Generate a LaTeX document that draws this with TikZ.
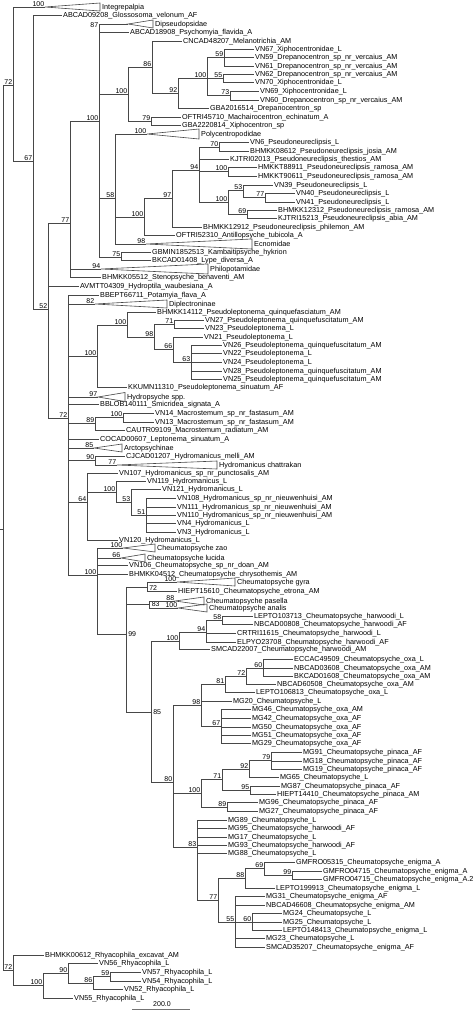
\documentclass[tikz,border=0pt]{standalone}
\usepackage{fontspec}
\setmainfont{Liberation Sans}
\begin{document}
\begin{tikzpicture}[
    x=1pt, y=-1pt,
    branch/.style={draw=black!72, line width=0.6pt},
    clade/.style={draw=black!72, line width=0.6pt},
    leaf/.style={anchor=west, inner xsep=1.5pt, inner ysep=0.5pt, xshift=-1.5pt, text height=5.2pt, text depth=0pt, font=\fontsize{7.25}{8}\selectfont},
    boot/.style={anchor=south east, inner sep=0.6pt, font=\fontsize{7}{8}\selectfont}
  ]
  \useasboundingbox (0,0) rectangle (474,1010);
  \coordinate (base) at (0,529);
  \coordinate (root) at (3,529);
  \draw[branch] (base) -- (root);
  \foreach \n/\x/\y/\b in {n72a/13/85/72, n67/33/161/67, n52/48/309/52, n77a/70/223/77, n100a/99/121/100,
      n87/99/28/87, n100b/128/94/100, n86/152/67/86, n92/178/93/92, n100c/207/78/100, n59/224/57/59,
      n55/223/78/55, n73/230/95/73, n79/151/121/79, n58/115/198/58, n100d/144/217/100, n97/172/198/97,
      n94/199/170/94, n70/219/147/70, n100e/228/171/100, n100f/228/202/100, n53/243/190/53, n77b/265/197/77,
      n69/247/214/69, n75/121/257/75, n72b/68/418/72, n100g/97/356/100, n100h/127/325/100, n98a/154/337/98,
      n71a/174/324/71, n66/173/349/66, n63/191/362/63, n89a/95/423/89, n100i/123/417/100, n90a/95/460/90,
      n64/87/502/64, n100j/116/492/100, n53b/131/502/53, n51/146/515/51, n100k/97/575/100, n99a/126/634/{},
      n72c/147/587/{}, n83a/149/604/{}, n85/151/712/{}, n100l/179/641/100, n94b/206/632/94, n58b/222/620/58,
      n80/173/782/80, n98b/201/705/98, n81/225/684/81, n72d/246/676/72, n60a/263/668/60, n67b/221/726/67,
      n100m/201/793/100, n71b/222/779/71, n92b/249/769/92, n79b/271/760/79, n95/250/790/95, n89b/227/807/89,
      n83b/197/847/83, n77c/218/900/77, n88/245/878/88, n69b/264/868/69, n99b/292/875/99, n55b/235/922/55,
      n60b/252/922/60, n72e/13/970/72, n100n/43/985/100, n90b/68/973/90, n86b/93/983/86, n59b/110/976/59}
    {
      \coordinate (\n) at (\x,\y);
      \node[boot] (\n-b) at (\n) {\b};
    }
  \node[boot, anchor=west, xshift=1.5pt, yshift=-1pt] (n72c-r) at (n72c) {72};
  \node[boot, anchor=west, xshift=2pt] (n83a-r) at (n83a) {83};
  \node[boot, anchor=west, xshift=1.5pt] (n99a-r) at (n99a) {99};
  \node[boot, anchor=west, xshift=1.5pt] (n85-r) at (n85) {85};
  \foreach \n/\ax/\bx/\y/\h/\b/\t in {tIn/45/100/7/4/100/Integrepalpia, tDi/128/153/24/4/{}/Dipseudopsidae,
      tPo/147/199/134/5/100/Polycentropodidae, tEc/146/252/244/5/98/Ecnomidae, tPh/101/208/269/5/94/Philopotamidae,
      tDl/95/167/304/4/82/Diplectroninae, tHy/98/125/397/4.5/97/Hydropsyche spp., tAr/94/122/448/4/85/Arctopsychinae,
      tCh/117/217/465/4/77/Hydromanicus chattrakan, tZa/123/155/548/4/100/Cheumatopsyche zao,
      tLu/121/145/558/4/66/Cheumatopsyche lucida, tGy/177/235/582/4/100/Cheumatopsyche gyra,
      tPa/175/204/601/4/88/Cheumatopsyche pasella, tAn/178/207/608/4/100/Cheumatopsyche analis}
    {
      \coordinate (\n) at (\ax,\y);
      \draw[clade] (\n) -- (\bx,\y-\h) -- (\bx,\y+\h) -- cycle;
      \node[leaf] (\n-l) at (\bx+2,\y) {\t};
      \node[boot] (\n-b) at (\n) {\b};
    }
  \foreach \n/\x/\y/\t in {
      ABCAD09208/63/15/ABCAD09208\_Glossosoma\_velonum\_AF,
      ABCAD18908/130/32/ABCAD18908\_Psychomyia\_flavida\_A,
      CNCAD48207/183/41/CNCAD48207\_Melanotrichia\_AM,
      VN67/255/49/VN67\_Xiphocentronidae\_L,
      VN59/255/57/VN59\_Drepanocentron\_sp\_nr\_vercaius\_AM,
      VN61/255/66/VN61\_Drepanocentron\_sp\_nr\_vercaius\_AM,
      VN62/255/74/VN62\_Drepanocentron\_sp\_nr\_vercaius\_AM,
      VN70/255/82/VN70\_Xiphocentronidae\_L,
      VN69/260/91/VN69\_Xiphocentronidae\_L,
      VN60/260/100/VN60\_Drepanocentron\_sp\_nr\_vercaius\_AM,
      GBA2016514/210/108/GBA2016514\_Drepanocentron\_sp,
      OFTRI45710/182/117/OFTRI45710\_Machairocentron\_echinatum\_A,
      GBA2220814/182/125/GBA2220814\_Xiphocentron\_sp,
      VN6/250/142/VN6\_Pseudoneureclipsis\_L,
      BHMKK08612/250/151/BHMKK08612\_Pseudoneureclipsis\_josia\_AM,
      KJTRI02013/230/159/KJTRI02013\_Pseudoneureclipsis\_thestios\_AM,
      HMKKT88911/258/167/HMKKT88911\_Pseudoneureclipsis\_ramosa\_AM,
      HMKKT90611/258/176/HMKKT90611\_Pseudoneureclipsis\_ramosa\_AM,
      VN39/274/185/VN39\_Pseudoneureclipsis\_L,
      VN40/296/193/VN40\_Pseudoneureclipsis\_L,
      VN41/296/202/VN41\_Pseudoneureclipsis\_L,
      BHMKK12312/278/210/BHMKK12312\_Pseudoneureclipsis\_ramosa\_AM,
      KJTRI15213/278/218/KJTRI15213\_Pseudoneureclipsis\_abia\_AM,
      BHMKK12912/203/227/BHMKK12912\_Pseudoneureclipsis\_philemon\_AM,
      OFTRI52310/176/235/OFTRI52310\_Antillopsyche\_tubicola\_A,
      GBMIN1852513/152/252/GBMIN1852513\_Kambaitipsyche\_hykrion,
      BKCAD01408/152/260/BKCAD01408\_Lype\_diversa\_A,
      BHMKK05512/102/277/BHMKK05512\_Stenopsyche\_benaventi\_AM,
      AVMTT04309/80/286/AVMTT04309\_Hydroptila\_waubesiana\_A,
      BBEPT66711/100/295/BBEPT66711\_Potamyia\_flava\_A,
      BHMKK14112/157/312/BHMKK14112\_Pseudoleptonema\_quinquefasciatum\_AM,
      VN27/205/320/VN27\_Pseudoleptonema\_quinquefuscitatum\_AM,
      VN23/205/328/VN23\_Pseudoleptonema\_L,
      VN21/204/337/VN21\_Pseudoleptonema\_L,
      VN26/223/345/VN26\_Pseudoleptonema\_quinquefuscitatum\_AM,
      VN22/223/353/VN22\_Pseudoleptonema\_L,
      VN24/223/362/VN24\_Pseudoleptonema\_L,
      VN28/223/371/VN28\_Pseudoleptonema\_quinquefuscitatum\_AM,
      VN25/223/379/VN25\_Pseudoleptonema\_quinquefuscitatum\_AM,
      KKUMN11310/128/387/KKUMN11310\_Pseudoleptonema\_sinuatum\_AF,
      BBLOB140111/100/404/BBLOB140111\_Smicridea\_signata\_A,
      VN14/155/413/VN14\_Macrostemum\_sp\_nr\_fastasum\_AM,
      VN13/155/422/VN13\_Macrostemum\_sp\_nr\_fastasum\_AM,
      CAUTR09109/126/430/CAUTR09109\_Macrostemum\_radiatum\_AM,
      COCAD00607/100/439/COCAD00607\_Leptonema\_sinuatum\_A,
      CJCAD01207/126/456/CJCAD01207\_Hydromanicus\_melli\_AM,
      VN107/119/473/VN107\_Hydromanicus\_sp\_nr\_punctosalis\_AM,
      VN119/147/481/VN119\_Hydromanicus\_L,
      VN121/162/489/VN121\_Hydromanicus\_L,
      VN108/177/498/VN108\_Hydromanicus\_sp\_nr\_nieuwenhuisi\_AM,
      VN111/177/507/VN111\_Hydromanicus\_sp\_nr\_nieuwenhuisi\_AM,
      VN110/177/515/VN110\_Hydromanicus\_sp\_nr\_nieuwenhuisi\_AM,
      VN4/177/523/VN4\_Hydromanicus\_L,
      VN3/177/532/VN3\_Hydromanicus\_L,
      VN120/119/540/VN120\_Hydromanicus\_L,
      VN106/129/565/VN106\_Cheumatopsyche\_sp\_nr\_doan\_AM,
      BHMKK04512/129/574/BHMKK04512\_Cheumatopsyche\_chrysothemis\_AM,
      HIEPT15610/178/591/HIEPT15610\_Cheumatopsyche\_etrona\_AM,
      LEPTO103713/254/616/LEPTO103713\_Cheumatopsyche\_harwoodi\_L,
      NBCAD00808/254/624/NBCAD00808\_Cheumatopsyche\_harwoodi\_AF,
      CRTRI11615/237/633/CRTRI11615\_Cheumatopsyche\_harwoodi\_L,
      ELPYO23708/237/642/ELPYO23708\_Cheumatopsyche\_harwoodi\_AF,
      SMCAD22007/211/649/SMCAD22007\_Cheumatopsyche\_harwoodi\_AM,
      ECCAC49509/294/659/ECCAC49509\_Cheumatopsyche\_oxa\_L,
      NBCAD03608/294/668/NBCAD03608\_Cheumatopsyche\_oxa\_AM,
      BKCAD01608/294/676/BKCAD01608\_Cheumatopsyche\_oxa\_AM,
      NBCAD60508/277/684/NBCAD60508\_Cheumatopsyche\_oxa\_AM,
      LEPTO106813/256/692/LEPTO106813\_Cheumatopsyche\_oxa\_L,
      MG20/233/701/MG20\_Cheumatopsyche\_L,
      MG46/252/709/MG46\_Cheumatopsyche\_oxa\_AM,
      MG42/252/718/MG42\_Cheumatopsyche\_oxa\_AF,
      MG50/252/727/MG50\_Cheumatopsyche\_oxa\_AF,
      MG51/252/735/MG51\_Cheumatopsyche\_oxa\_AF,
      MG29/252/743/MG29\_Cheumatopsyche\_oxa\_AF,
      MG91/303/752/MG91\_Cheumatopsyche\_pinaca\_AF,
      MG18/303/761/MG18\_Cheumatopsyche\_pinaca\_AF,
      MG19/303/769/MG19\_Cheumatopsyche\_pinaca\_AF,
      MG65/280/777/MG65\_Cheumatopsyche\_L,
      MG87/281/786/MG87\_Cheumatopsyche\_pinaca\_AF,
      HIEPT14410/277/794/HIEPT14410\_Cheumatopsyche\_pinaca\_AM,
      MG96/259/802/MG96\_Cheumatopsyche\_pinaca\_AF,
      MG27/259/811/MG27\_Cheumatopsyche\_pinaca\_AF,
      MG89/228/820/MG89\_Cheumatopsyche\_L,
      MG95/228/828/MG95\_Cheumatopsyche\_harwoodi\_AF,
      MG17/228/837/MG17\_Cheumatopsyche\_L,
      MG93/228/845/MG93\_Cheumatopsyche\_harwoodi\_AF,
      MG88/228/853/MG88\_Cheumatopsyche\_L,
      GMFRO05315/296/862/GMFRO05315\_Cheumatopsyche\_enigma\_A,
      GMFRO04715/323/871/GMFRO04715\_Cheumatopsyche\_enigma\_A,
      GMFRO04715b/323/879/GMFRO04715\_Cheumatopsyche\_enigma\_A.2,
      LEPTO199913/276/888/LEPTO199913\_Cheumatopsyche\_enigma\_L,
      MG31/266/896/MG31\_Cheumatopsyche\_enigma\_AF,
      NBCAD46608/266/905/NBCAD46608\_Cheumatopsyche\_enigma\_AM,
      MG24/283/913/MG24\_Cheumatopsyche\_L,
      MG25/283/922/MG25\_Cheumatopsyche\_L,
      LEPTO148413/283/930/LEPTO148413\_Cheumatopsyche\_enigma\_L,
      MG23/266/938/MG23\_Cheumatopsyche\_L,
      SMCAD35207/266/947/SMCAD35207\_Cheumatopsyche\_enigma\_AF,
      BHMKK00612/45/955/BHMKK00612\_Rhyacophila\_excavat\_AM,
      VN56/99/963/VN56\_Rhyacophila\_L,
      VN57/142/972/VN57\_Rhyacophila\_L,
      VN54/142/981/VN54\_Rhyacophila\_L,
      VN52/124/989/VN52\_Rhyacophila\_L,
      VN55/74/998/VN55\_Rhyacophila\_L}
    \node[leaf] (\n) at (\x,\y) {\t};
  \foreach \p/\cs in {root/{n72a,n72e}, n72a/{tIn,n67}, n67/{ABCAD09208,n52}, n52/{n77a,AVMTT04309,n72b},
      n77a/{n100a,tPh,BHMKK05512}, n100a/{n87,n100b,n58,n75}, n87/{tDi,ABCAD18908}, n100b/{n86,n79},
      n86/{CNCAD48207,n92}, n92/{n100c,GBA2016514}, n100c/{n59,n55,n73}, n59/{VN67,VN59,VN61},
      n55/{VN62,VN70}, n73/{VN69,VN60}, n79/{OFTRI45710,GBA2220814}, n58/{tPo,n100d,tEc},
      n100d/{n97,OFTRI52310}, n97/{n94,BHMKK12912}, n94/{n70,KJTRI02013,n100e,n100f}, n70/{VN6,BHMKK08612},
      n100e/{HMKKT88911,HMKKT90611}, n100f/{n53,n69}, n53/{VN39,n77b}, n77b/{VN40,VN41},
      n69/{BHMKK12312,KJTRI15213}, n75/{GBMIN1852513,BKCAD01408},
      n72b/{BBEPT66711,tDl,n100g,tHy,BBLOB140111,n89a,COCAD00607,tAr,n90a,n64,n100k},
      n100g/{n100h,KKUMN11310}, n100h/{BHMKK14112,n98a}, n98a/{n71a,n66}, n71a/{VN27,VN23}, n66/{VN21,n63},
      n63/{VN26,VN22,VN24,VN28,VN25}, n89a/{n100i,CAUTR09109}, n100i/{VN14,VN13}, n90a/{CJCAD01207,tCh},
      n64/{VN107,n100j,VN120}, n100j/{VN119,n53b}, n53b/{VN121,n51}, n51/{VN108,VN111,VN110,VN4,VN3},
      n100k/{tZa,tLu,VN106,BHMKK04512,n99a}, n99a/{n72c,n83a,n85}, n72c/{tGy,HIEPT15610}, n83a/{tPa,tAn},
      n85/{n100l,n80}, n100l/{n94b,SMCAD22007}, n94b/{n58b,CRTRI11615,ELPYO23708},
      n58b/{LEPTO103713,NBCAD00808}, n80/{n98b,n100m,n83b}, n98b/{n81,MG20,n67b}, n81/{n72d,LEPTO106813},
      n72d/{n60a,NBCAD60508}, n60a/{ECCAC49509,NBCAD03608,BKCAD01608}, n67b/{MG46,MG42,MG50,MG51,MG29},
      n100m/{n71b,n89b}, n71b/{n92b,n95}, n92b/{n79b,MG65}, n79b/{MG91,MG18,MG19}, n95/{MG87,HIEPT14410},
      n89b/{MG96,MG27}, n83b/{MG89,MG95,MG17,MG93,MG88,n77c}, n77c/{n88,n55b}, n88/{n69b,LEPTO199913},
      n69b/{GMFRO05315,n99b}, n99b/{GMFRO04715,GMFRO04715b}, n55b/{MG31,NBCAD46608,n60b,MG23,SMCAD35207},
      n60b/{MG24,MG25,LEPTO148413}, n72e/{BHMKK00612,n100n}, n100n/{n90b,VN55}, n90b/{VN56,n86b},
      n86b/{n59b,VN52}, n59b/{VN57,VN54}}
    \foreach \c in \cs \draw[branch] (\p) |- (\c);
  \coordinate (bar-a) at (132,1009);
  \coordinate (bar-b) at (190,1009);
  \draw[black!55, line width=1pt] (bar-a) -- (bar-b);
  \node[boot, anchor=base] (bar-t) at (162,1006.5) {200.0};
\end{tikzpicture}
\end{document}
